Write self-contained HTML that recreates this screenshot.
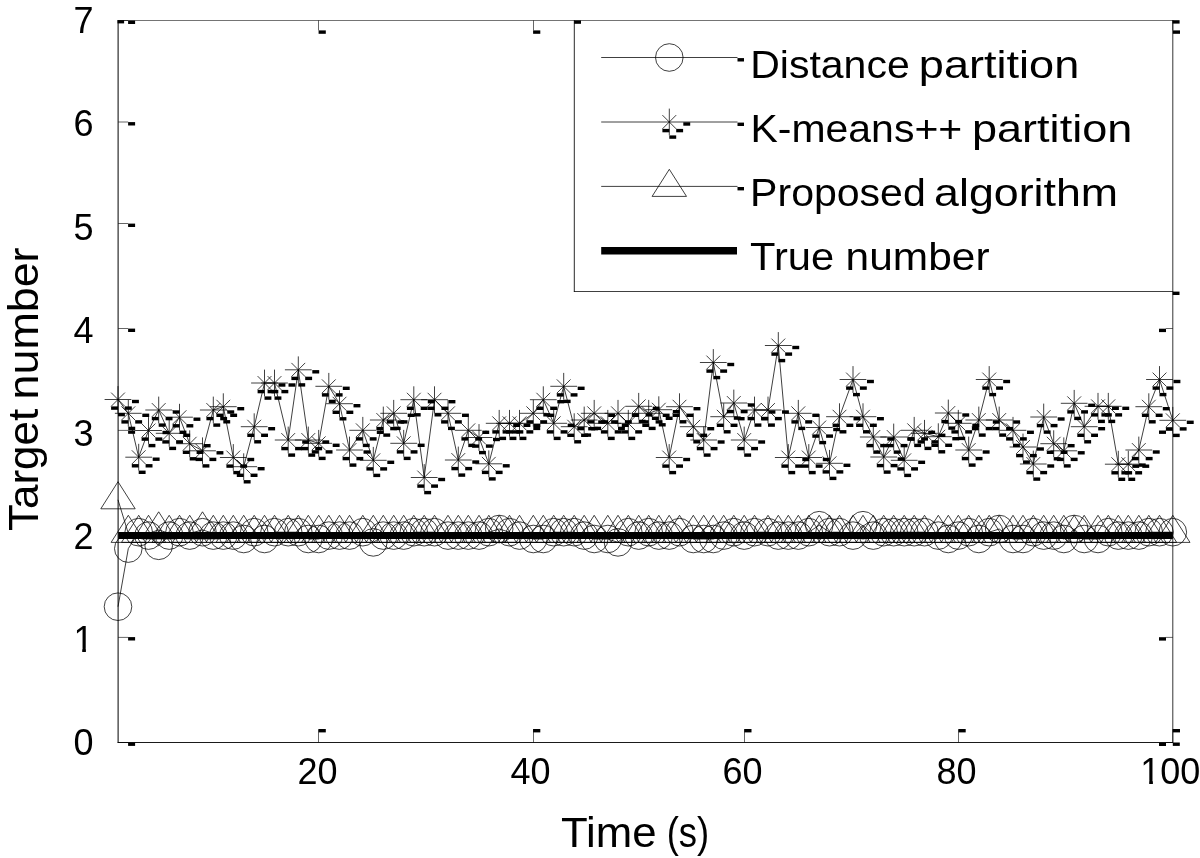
<!DOCTYPE html>
<html lang="en"><head><meta charset="utf-8"><title>Target number vs Time</title>
<style>
html,body{margin:0;padding:0;background:#fff;}
body{width:1200px;height:858px;overflow:hidden;font-family:"Liberation Sans",Arial,sans-serif;}
svg{display:block;}
</style></head><body>
<svg width="1200" height="858" viewBox="0 0 1200 858">
<rect width="1200" height="858" fill="#fff"/>
<g stroke="#000" fill="#000" stroke-linecap="butt">
<polyline points="118.0,606.7 128.3,548.6 138.7,532.2 148.5,535.6 158.7,545.8 169.2,535.6 179.5,532.2 189.7,535.6 202.5,532.2 213.3,535.6 223.3,535.6 233.3,535.6 243.7,539.0 254.2,532.2 264.5,539.0 274.5,532.2 288.2,532.2 298.3,532.2 308.3,539.0 318.7,539.0 328.8,535.6 339.5,535.6 349.5,535.6 362.8,532.2 373.3,542.4 383.3,535.6 393.7,535.6 403.7,535.6 413.8,532.2 424.2,532.2 434.5,532.2 448.0,535.6 458.3,535.6 468.3,535.6 479.0,535.6 488.8,532.2 499.2,529.0 509.5,532.2 519.5,535.6 533.3,539.0 543.3,539.0 553.7,532.2 563.7,532.2 574.2,532.2 584.2,535.6 594.2,539.0 607.8,539.0 618.0,542.4 628.3,532.2 638.7,535.6 648.7,532.2 658.8,535.6 669.2,535.6 679.5,532.2 693.3,539.0 703.7,539.0 713.3,539.0 723.7,535.6 733.8,532.2 744.2,535.6 754.5,532.2 768.0,532.2 778.3,535.6 788.3,535.6 798.3,535.6 808.8,532.2 819.2,525.2 829.5,532.2 839.5,532.2 853.0,535.6 863.0,525.2 873.3,535.6 883.7,532.2 893.7,532.2 904.2,532.2 914.2,532.2 924.5,532.2 938.3,535.6 948.3,539.0 958.3,535.6 968.7,532.2 978.8,539.0 989.2,532.2 999.2,529.0 1013.0,539.0 1023.0,539.0 1033.3,532.2 1043.7,535.6 1053.7,535.6 1063.8,539.0 1074.2,529.0 1084.2,539.0 1098.0,539.0 1108.3,532.2 1118.3,535.6 1128.3,535.6 1138.8,535.6 1148.8,532.2 1159.5,532.2 1172.8,532.2" fill="none" stroke-width="0.75"/>
<g fill="none" stroke-width="0.75">
<circle cx="118.0" cy="606.7" r="13.8"/>
<circle cx="128.3" cy="548.6" r="13.8"/>
<circle cx="138.7" cy="532.2" r="13.8"/>
<circle cx="148.5" cy="535.6" r="13.8"/>
<circle cx="158.7" cy="545.8" r="13.8"/>
<circle cx="169.2" cy="535.6" r="13.8"/>
<circle cx="179.5" cy="532.2" r="13.8"/>
<circle cx="189.7" cy="535.6" r="13.8"/>
<circle cx="202.5" cy="532.2" r="13.8"/>
<circle cx="213.3" cy="535.6" r="13.8"/>
<circle cx="223.3" cy="535.6" r="13.8"/>
<circle cx="233.3" cy="535.6" r="13.8"/>
<circle cx="243.7" cy="539.0" r="13.8"/>
<circle cx="254.2" cy="532.2" r="13.8"/>
<circle cx="264.5" cy="539.0" r="13.8"/>
<circle cx="274.5" cy="532.2" r="13.8"/>
<circle cx="288.2" cy="532.2" r="13.8"/>
<circle cx="298.3" cy="532.2" r="13.8"/>
<circle cx="308.3" cy="539.0" r="13.8"/>
<circle cx="318.7" cy="539.0" r="13.8"/>
<circle cx="328.8" cy="535.6" r="13.8"/>
<circle cx="339.5" cy="535.6" r="13.8"/>
<circle cx="349.5" cy="535.6" r="13.8"/>
<circle cx="362.8" cy="532.2" r="13.8"/>
<circle cx="373.3" cy="542.4" r="13.8"/>
<circle cx="383.3" cy="535.6" r="13.8"/>
<circle cx="393.7" cy="535.6" r="13.8"/>
<circle cx="403.7" cy="535.6" r="13.8"/>
<circle cx="413.8" cy="532.2" r="13.8"/>
<circle cx="424.2" cy="532.2" r="13.8"/>
<circle cx="434.5" cy="532.2" r="13.8"/>
<circle cx="448.0" cy="535.6" r="13.8"/>
<circle cx="458.3" cy="535.6" r="13.8"/>
<circle cx="468.3" cy="535.6" r="13.8"/>
<circle cx="479.0" cy="535.6" r="13.8"/>
<circle cx="488.8" cy="532.2" r="13.8"/>
<circle cx="499.2" cy="529.0" r="13.8"/>
<circle cx="509.5" cy="532.2" r="13.8"/>
<circle cx="519.5" cy="535.6" r="13.8"/>
<circle cx="533.3" cy="539.0" r="13.8"/>
<circle cx="543.3" cy="539.0" r="13.8"/>
<circle cx="553.7" cy="532.2" r="13.8"/>
<circle cx="563.7" cy="532.2" r="13.8"/>
<circle cx="574.2" cy="532.2" r="13.8"/>
<circle cx="584.2" cy="535.6" r="13.8"/>
<circle cx="594.2" cy="539.0" r="13.8"/>
<circle cx="607.8" cy="539.0" r="13.8"/>
<circle cx="618.0" cy="542.4" r="13.8"/>
<circle cx="628.3" cy="532.2" r="13.8"/>
<circle cx="638.7" cy="535.6" r="13.8"/>
<circle cx="648.7" cy="532.2" r="13.8"/>
<circle cx="658.8" cy="535.6" r="13.8"/>
<circle cx="669.2" cy="535.6" r="13.8"/>
<circle cx="679.5" cy="532.2" r="13.8"/>
<circle cx="693.3" cy="539.0" r="13.8"/>
<circle cx="703.7" cy="539.0" r="13.8"/>
<circle cx="713.3" cy="539.0" r="13.8"/>
<circle cx="723.7" cy="535.6" r="13.8"/>
<circle cx="733.8" cy="532.2" r="13.8"/>
<circle cx="744.2" cy="535.6" r="13.8"/>
<circle cx="754.5" cy="532.2" r="13.8"/>
<circle cx="768.0" cy="532.2" r="13.8"/>
<circle cx="778.3" cy="535.6" r="13.8"/>
<circle cx="788.3" cy="535.6" r="13.8"/>
<circle cx="798.3" cy="535.6" r="13.8"/>
<circle cx="808.8" cy="532.2" r="13.8"/>
<circle cx="819.2" cy="525.2" r="13.8"/>
<circle cx="829.5" cy="532.2" r="13.8"/>
<circle cx="839.5" cy="532.2" r="13.8"/>
<circle cx="853.0" cy="535.6" r="13.8"/>
<circle cx="863.0" cy="525.2" r="13.8"/>
<circle cx="873.3" cy="535.6" r="13.8"/>
<circle cx="883.7" cy="532.2" r="13.8"/>
<circle cx="893.7" cy="532.2" r="13.8"/>
<circle cx="904.2" cy="532.2" r="13.8"/>
<circle cx="914.2" cy="532.2" r="13.8"/>
<circle cx="924.5" cy="532.2" r="13.8"/>
<circle cx="938.3" cy="535.6" r="13.8"/>
<circle cx="948.3" cy="539.0" r="13.8"/>
<circle cx="958.3" cy="535.6" r="13.8"/>
<circle cx="968.7" cy="532.2" r="13.8"/>
<circle cx="978.8" cy="539.0" r="13.8"/>
<circle cx="989.2" cy="532.2" r="13.8"/>
<circle cx="999.2" cy="529.0" r="13.8"/>
<circle cx="1013.0" cy="539.0" r="13.8"/>
<circle cx="1023.0" cy="539.0" r="13.8"/>
<circle cx="1033.3" cy="532.2" r="13.8"/>
<circle cx="1043.7" cy="535.6" r="13.8"/>
<circle cx="1053.7" cy="535.6" r="13.8"/>
<circle cx="1063.8" cy="539.0" r="13.8"/>
<circle cx="1074.2" cy="529.0" r="13.8"/>
<circle cx="1084.2" cy="539.0" r="13.8"/>
<circle cx="1098.0" cy="539.0" r="13.8"/>
<circle cx="1108.3" cy="532.2" r="13.8"/>
<circle cx="1118.3" cy="535.6" r="13.8"/>
<circle cx="1128.3" cy="535.6" r="13.8"/>
<circle cx="1138.8" cy="535.6" r="13.8"/>
<circle cx="1148.8" cy="532.2" r="13.8"/>
<circle cx="1159.5" cy="532.2" r="13.8"/>
<circle cx="1172.8" cy="532.2" r="13.8"/>
</g>
<polyline points="118.0,399.5 128.3,413.3 138.7,457.2 148.5,430.5 158.7,410.0 169.2,433.3 179.5,417.2 189.7,443.7 202.5,450.8 213.3,410.0 223.3,406.7 233.3,457.5 243.7,466.7 254.2,426.7 264.5,383.0 274.5,383.0 288.2,440.0 298.3,369.8 308.3,440.0 318.7,443.3 328.8,386.3 339.5,403.7 349.5,450.0 362.8,430.3 373.3,460.3 383.3,420.0 393.7,413.3 403.7,443.3 413.8,399.7 424.2,477.5 434.5,399.7 448.0,413.3 458.3,460.0 468.3,430.3 479.0,437.5 488.8,463.8 499.2,423.3 509.5,423.3 519.5,423.3 533.3,413.3 543.3,399.7 553.7,423.3 563.7,386.3 574.2,426.7 584.2,420.0 594.2,413.3 607.8,423.3 618.0,413.3 628.3,423.3 638.7,406.3 648.7,413.3 658.8,409.7 669.2,457.5 679.5,406.7 693.3,426.7 703.7,440.0 713.3,362.5 723.7,416.7 733.8,403.0 744.2,440.0 754.5,410.0 768.0,410.0 778.3,345.5 788.3,457.5 798.3,413.3 808.8,457.5 819.2,427.5 829.5,463.3 839.5,416.7 853.0,379.5 863.0,416.7 873.3,437.0 883.7,457.0 893.7,437.0 904.2,460.3 914.2,430.3 924.5,433.3 938.3,436.7 948.3,413.0 958.3,423.3 968.7,450.0 978.8,420.0 989.2,379.5 999.2,420.0 1013.0,430.3 1023.0,447.0 1033.3,464.0 1043.7,417.0 1053.7,443.7 1063.8,450.8 1074.2,403.3 1084.2,426.7 1098.0,406.3 1108.3,406.3 1118.3,464.2 1128.3,464.2 1138.8,450.0 1148.8,406.7 1159.5,379.5 1172.8,420.3" fill="none" stroke-width="0.75"/>
<path d="M104.6 399.5H131.4M118.0 386.1V412.9M111.1 392.6L124.9 406.4M124.9 392.6L111.1 406.4M114.9 413.3H141.7M128.3 399.9V426.7M121.4 406.4L135.2 420.2M135.2 406.4L121.4 420.2M125.3 457.2H152.1M138.7 443.8V470.6M131.8 450.3L145.6 464.1M145.6 450.3L131.8 464.1M135.1 430.5H161.9M148.5 417.1V443.9M141.6 423.6L155.4 437.4M155.4 423.6L141.6 437.4M145.3 410.0H172.1M158.7 396.6V423.4M151.8 403.1L165.6 416.9M165.6 403.1L151.8 416.9M155.8 433.3H182.6M169.2 419.9V446.7M162.3 426.4L176.1 440.2M176.1 426.4L162.3 440.2M166.1 417.2H192.9M179.5 403.8V430.6M172.6 410.3L186.4 424.1M186.4 410.3L172.6 424.1M176.3 443.7H203.1M189.7 430.3V457.1M182.8 436.8L196.6 450.6M196.6 436.8L182.8 450.6M189.1 450.8H215.9M202.5 437.4V464.2M195.6 443.9L209.4 457.7M209.4 443.9L195.6 457.7M199.9 410.0H226.7M213.3 396.6V423.4M206.4 403.1L220.2 416.9M220.2 403.1L206.4 416.9M209.9 406.7H236.7M223.3 393.3V420.1M216.4 399.8L230.2 413.6M230.2 399.8L216.4 413.6M219.9 457.5H246.7M233.3 444.1V470.9M226.4 450.6L240.2 464.4M240.2 450.6L226.4 464.4M230.3 466.7H257.1M243.7 453.3V480.1M236.8 459.8L250.6 473.6M250.6 459.8L236.8 473.6M240.8 426.7H267.6M254.2 413.3V440.1M247.3 419.8L261.1 433.6M261.1 419.8L247.3 433.6M251.1 383.0H277.9M264.5 369.6V396.4M257.6 376.1L271.4 389.9M271.4 376.1L257.6 389.9M261.1 383.0H287.9M274.5 369.6V396.4M267.6 376.1L281.4 389.9M281.4 376.1L267.6 389.9M274.8 440.0H301.6M288.2 426.6V453.4M281.3 433.1L295.1 446.9M295.1 433.1L281.3 446.9M284.9 369.8H311.7M298.3 356.4V383.2M291.4 362.9L305.2 376.7M305.2 362.9L291.4 376.7M294.9 440.0H321.7M308.3 426.6V453.4M301.4 433.1L315.2 446.9M315.2 433.1L301.4 446.9M305.3 443.3H332.1M318.7 429.9V456.7M311.8 436.4L325.6 450.2M325.6 436.4L311.8 450.2M315.4 386.3H342.2M328.8 372.9V399.7M321.9 379.4L335.7 393.2M335.7 379.4L321.9 393.2M326.1 403.7H352.9M339.5 390.3V417.1M332.6 396.8L346.4 410.6M346.4 396.8L332.6 410.6M336.1 450.0H362.9M349.5 436.6V463.4M342.6 443.1L356.4 456.9M356.4 443.1L342.6 456.9M349.4 430.3H376.2M362.8 416.9V443.7M355.9 423.4L369.7 437.2M369.7 423.4L355.9 437.2M359.9 460.3H386.7M373.3 446.9V473.7M366.4 453.4L380.2 467.2M380.2 453.4L366.4 467.2M369.9 420.0H396.7M383.3 406.6V433.4M376.4 413.1L390.2 426.9M390.2 413.1L376.4 426.9M380.3 413.3H407.1M393.7 399.9V426.7M386.8 406.4L400.6 420.2M400.6 406.4L386.8 420.2M390.3 443.3H417.1M403.7 429.9V456.7M396.8 436.4L410.6 450.2M410.6 436.4L396.8 450.2M400.4 399.7H427.2M413.8 386.3V413.1M406.9 392.8L420.7 406.6M420.7 392.8L406.9 406.6M410.8 477.5H437.6M424.2 464.1V490.9M417.3 470.6L431.1 484.4M431.1 470.6L417.3 484.4M421.1 399.7H447.9M434.5 386.3V413.1M427.6 392.8L441.4 406.6M441.4 392.8L427.6 406.6M434.6 413.3H461.4M448.0 399.9V426.7M441.1 406.4L454.9 420.2M454.9 406.4L441.1 420.2M444.9 460.0H471.7M458.3 446.6V473.4M451.4 453.1L465.2 466.9M465.2 453.1L451.4 466.9M454.9 430.3H481.7M468.3 416.9V443.7M461.4 423.4L475.2 437.2M475.2 423.4L461.4 437.2M465.6 437.5H492.4M479.0 424.1V450.9M472.1 430.6L485.9 444.4M485.9 430.6L472.1 444.4M475.4 463.8H502.2M488.8 450.4V477.2M481.9 456.9L495.7 470.7M495.7 456.9L481.9 470.7M485.8 423.3H512.6M499.2 409.9V436.7M492.3 416.4L506.1 430.2M506.1 416.4L492.3 430.2M496.1 423.3H522.9M509.5 409.9V436.7M502.6 416.4L516.4 430.2M516.4 416.4L502.6 430.2M506.1 423.3H532.9M519.5 409.9V436.7M512.6 416.4L526.4 430.2M526.4 416.4L512.6 430.2M519.9 413.3H546.7M533.3 399.9V426.7M526.4 406.4L540.2 420.2M540.2 406.4L526.4 420.2M529.9 399.7H556.7M543.3 386.3V413.1M536.4 392.8L550.2 406.6M550.2 392.8L536.4 406.6M540.3 423.3H567.1M553.7 409.9V436.7M546.8 416.4L560.6 430.2M560.6 416.4L546.8 430.2M550.3 386.3H577.1M563.7 372.9V399.7M556.8 379.4L570.6 393.2M570.6 379.4L556.8 393.2M560.8 426.7H587.6M574.2 413.3V440.1M567.3 419.8L581.1 433.6M581.1 419.8L567.3 433.6M570.8 420.0H597.6M584.2 406.6V433.4M577.3 413.1L591.1 426.9M591.1 413.1L577.3 426.9M580.8 413.3H607.6M594.2 399.9V426.7M587.3 406.4L601.1 420.2M601.1 406.4L587.3 420.2M594.4 423.3H621.2M607.8 409.9V436.7M600.9 416.4L614.7 430.2M614.7 416.4L600.9 430.2M604.6 413.3H631.4M618.0 399.9V426.7M611.1 406.4L624.9 420.2M624.9 406.4L611.1 420.2M614.9 423.3H641.7M628.3 409.9V436.7M621.4 416.4L635.2 430.2M635.2 416.4L621.4 430.2M625.3 406.3H652.1M638.7 392.9V419.7M631.8 399.4L645.6 413.2M645.6 399.4L631.8 413.2M635.3 413.3H662.1M648.7 399.9V426.7M641.8 406.4L655.6 420.2M655.6 406.4L641.8 420.2M645.4 409.7H672.2M658.8 396.3V423.1M651.9 402.8L665.7 416.6M665.7 402.8L651.9 416.6M655.8 457.5H682.6M669.2 444.1V470.9M662.3 450.6L676.1 464.4M676.1 450.6L662.3 464.4M666.1 406.7H692.9M679.5 393.3V420.1M672.6 399.8L686.4 413.6M686.4 399.8L672.6 413.6M679.9 426.7H706.7M693.3 413.3V440.1M686.4 419.8L700.2 433.6M700.2 419.8L686.4 433.6M690.3 440.0H717.1M703.7 426.6V453.4M696.8 433.1L710.6 446.9M710.6 433.1L696.8 446.9M699.9 362.5H726.7M713.3 349.1V375.9M706.4 355.6L720.2 369.4M720.2 355.6L706.4 369.4M710.3 416.7H737.1M723.7 403.3V430.1M716.8 409.8L730.6 423.6M730.6 409.8L716.8 423.6M720.4 403.0H747.2M733.8 389.6V416.4M726.9 396.1L740.7 409.9M740.7 396.1L726.9 409.9M730.8 440.0H757.6M744.2 426.6V453.4M737.3 433.1L751.1 446.9M751.1 433.1L737.3 446.9M741.1 410.0H767.9M754.5 396.6V423.4M747.6 403.1L761.4 416.9M761.4 403.1L747.6 416.9M754.6 410.0H781.4M768.0 396.6V423.4M761.1 403.1L774.9 416.9M774.9 403.1L761.1 416.9M764.9 345.5H791.7M778.3 332.1V358.9M771.4 338.6L785.2 352.4M785.2 338.6L771.4 352.4M774.9 457.5H801.7M788.3 444.1V470.9M781.4 450.6L795.2 464.4M795.2 450.6L781.4 464.4M784.9 413.3H811.7M798.3 399.9V426.7M791.4 406.4L805.2 420.2M805.2 406.4L791.4 420.2M795.4 457.5H822.2M808.8 444.1V470.9M801.9 450.6L815.7 464.4M815.7 450.6L801.9 464.4M805.8 427.5H832.6M819.2 414.1V440.9M812.3 420.6L826.1 434.4M826.1 420.6L812.3 434.4M816.1 463.3H842.9M829.5 449.9V476.7M822.6 456.4L836.4 470.2M836.4 456.4L822.6 470.2M826.1 416.7H852.9M839.5 403.3V430.1M832.6 409.8L846.4 423.6M846.4 409.8L832.6 423.6M839.6 379.5H866.4M853.0 366.1V392.9M846.1 372.6L859.9 386.4M859.9 372.6L846.1 386.4M849.6 416.7H876.4M863.0 403.3V430.1M856.1 409.8L869.9 423.6M869.9 409.8L856.1 423.6M859.9 437.0H886.7M873.3 423.6V450.4M866.4 430.1L880.2 443.9M880.2 430.1L866.4 443.9M870.3 457.0H897.1M883.7 443.6V470.4M876.8 450.1L890.6 463.9M890.6 450.1L876.8 463.9M880.3 437.0H907.1M893.7 423.6V450.4M886.8 430.1L900.6 443.9M900.6 430.1L886.8 443.9M890.8 460.3H917.6M904.2 446.9V473.7M897.3 453.4L911.1 467.2M911.1 453.4L897.3 467.2M900.8 430.3H927.6M914.2 416.9V443.7M907.3 423.4L921.1 437.2M921.1 423.4L907.3 437.2M911.1 433.3H937.9M924.5 419.9V446.7M917.6 426.4L931.4 440.2M931.4 426.4L917.6 440.2M924.9 436.7H951.7M938.3 423.3V450.1M931.4 429.8L945.2 443.6M945.2 429.8L931.4 443.6M934.9 413.0H961.7M948.3 399.6V426.4M941.4 406.1L955.2 419.9M955.2 406.1L941.4 419.9M944.9 423.3H971.7M958.3 409.9V436.7M951.4 416.4L965.2 430.2M965.2 416.4L951.4 430.2M955.3 450.0H982.1M968.7 436.6V463.4M961.8 443.1L975.6 456.9M975.6 443.1L961.8 456.9M965.4 420.0H992.2M978.8 406.6V433.4M971.9 413.1L985.7 426.9M985.7 413.1L971.9 426.9M975.8 379.5H1002.6M989.2 366.1V392.9M982.3 372.6L996.1 386.4M996.1 372.6L982.3 386.4M985.8 420.0H1012.6M999.2 406.6V433.4M992.3 413.1L1006.1 426.9M1006.1 413.1L992.3 426.9M999.6 430.3H1026.4M1013.0 416.9V443.7M1006.1 423.4L1019.9 437.2M1019.9 423.4L1006.1 437.2M1009.6 447.0H1036.4M1023.0 433.6V460.4M1016.1 440.1L1029.9 453.9M1029.9 440.1L1016.1 453.9M1019.9 464.0H1046.7M1033.3 450.6V477.4M1026.4 457.1L1040.2 470.9M1040.2 457.1L1026.4 470.9M1030.3 417.0H1057.1M1043.7 403.6V430.4M1036.8 410.1L1050.6 423.9M1050.6 410.1L1036.8 423.9M1040.3 443.7H1067.1M1053.7 430.3V457.1M1046.8 436.8L1060.6 450.6M1060.6 436.8L1046.8 450.6M1050.4 450.8H1077.2M1063.8 437.4V464.2M1056.9 443.9L1070.7 457.7M1070.7 443.9L1056.9 457.7M1060.8 403.3H1087.6M1074.2 389.9V416.7M1067.3 396.4L1081.1 410.2M1081.1 396.4L1067.3 410.2M1070.8 426.7H1097.6M1084.2 413.3V440.1M1077.3 419.8L1091.1 433.6M1091.1 419.8L1077.3 433.6M1084.6 406.3H1111.4M1098.0 392.9V419.7M1091.1 399.4L1104.9 413.2M1104.9 399.4L1091.1 413.2M1094.9 406.3H1121.7M1108.3 392.9V419.7M1101.4 399.4L1115.2 413.2M1115.2 399.4L1101.4 413.2M1104.9 464.2H1131.7M1118.3 450.8V477.6M1111.4 457.3L1125.2 471.1M1125.2 457.3L1111.4 471.1M1114.9 464.2H1141.7M1128.3 450.8V477.6M1121.4 457.3L1135.2 471.1M1135.2 457.3L1121.4 471.1M1125.4 450.0H1152.2M1138.8 436.6V463.4M1131.9 443.1L1145.7 456.9M1145.7 443.1L1131.9 456.9M1135.4 406.7H1162.2M1148.8 393.3V420.1M1141.9 399.8L1155.7 413.6M1155.7 399.8L1141.9 413.6M1146.1 379.5H1172.9M1159.5 366.1V392.9M1152.6 372.6L1166.4 386.4M1166.4 372.6L1152.6 386.4M1159.4 420.3H1186.2M1172.8 406.9V433.7M1165.9 413.4L1179.7 427.2M1179.7 413.4L1165.9 427.2" fill="none" stroke-width="0.75"/>
<g stroke="none">
<rect x="132.0" y="399.8" width="6.9" height="3.4"/>
<rect x="118.0" y="412.9" width="6.9" height="3.4"/>
<rect x="111.1" y="406.4" width="6.9" height="3.4"/>
<rect x="124.9" y="406.4" width="6.9" height="3.4"/>
<rect x="142.3" y="413.6" width="6.9" height="3.4"/>
<rect x="128.3" y="426.7" width="6.9" height="3.4"/>
<rect x="121.4" y="420.2" width="6.9" height="3.4"/>
<rect x="135.2" y="420.2" width="6.9" height="3.4"/>
<rect x="152.7" y="457.5" width="6.9" height="3.4"/>
<rect x="138.7" y="470.6" width="6.9" height="3.4"/>
<rect x="131.8" y="464.1" width="6.9" height="3.4"/>
<rect x="145.6" y="464.1" width="6.9" height="3.4"/>
<rect x="162.5" y="430.8" width="6.9" height="3.4"/>
<rect x="148.5" y="443.9" width="6.9" height="3.4"/>
<rect x="141.6" y="437.4" width="6.9" height="3.4"/>
<rect x="155.4" y="437.4" width="6.9" height="3.4"/>
<rect x="172.7" y="410.3" width="6.9" height="3.4"/>
<rect x="158.7" y="423.4" width="6.9" height="3.4"/>
<rect x="151.8" y="416.9" width="6.9" height="3.4"/>
<rect x="165.6" y="416.9" width="6.9" height="3.4"/>
<rect x="183.2" y="433.6" width="6.9" height="3.4"/>
<rect x="169.2" y="446.7" width="6.9" height="3.4"/>
<rect x="162.3" y="440.2" width="6.9" height="3.4"/>
<rect x="176.1" y="440.2" width="6.9" height="3.4"/>
<rect x="193.5" y="417.5" width="6.9" height="3.4"/>
<rect x="179.5" y="430.6" width="6.9" height="3.4"/>
<rect x="172.6" y="424.1" width="6.9" height="3.4"/>
<rect x="186.4" y="424.1" width="6.9" height="3.4"/>
<rect x="203.7" y="444.0" width="6.9" height="3.4"/>
<rect x="189.7" y="457.1" width="6.9" height="3.4"/>
<rect x="182.8" y="450.6" width="6.9" height="3.4"/>
<rect x="196.6" y="450.6" width="6.9" height="3.4"/>
<rect x="216.5" y="451.1" width="6.9" height="3.4"/>
<rect x="202.5" y="464.2" width="6.9" height="3.4"/>
<rect x="195.6" y="457.7" width="6.9" height="3.4"/>
<rect x="209.4" y="457.7" width="6.9" height="3.4"/>
<rect x="227.3" y="410.3" width="6.9" height="3.4"/>
<rect x="213.3" y="423.4" width="6.9" height="3.4"/>
<rect x="206.4" y="416.9" width="6.9" height="3.4"/>
<rect x="220.2" y="416.9" width="6.9" height="3.4"/>
<rect x="237.3" y="407.0" width="6.9" height="3.4"/>
<rect x="223.3" y="420.1" width="6.9" height="3.4"/>
<rect x="216.4" y="413.6" width="6.9" height="3.4"/>
<rect x="230.2" y="413.6" width="6.9" height="3.4"/>
<rect x="247.3" y="457.8" width="6.9" height="3.4"/>
<rect x="233.3" y="470.9" width="6.9" height="3.4"/>
<rect x="226.4" y="464.4" width="6.9" height="3.4"/>
<rect x="240.2" y="464.4" width="6.9" height="3.4"/>
<rect x="257.7" y="467.0" width="6.9" height="3.4"/>
<rect x="243.7" y="480.1" width="6.9" height="3.4"/>
<rect x="236.8" y="473.6" width="6.9" height="3.4"/>
<rect x="250.6" y="473.6" width="6.9" height="3.4"/>
<rect x="268.2" y="427.0" width="6.9" height="3.4"/>
<rect x="254.2" y="440.1" width="6.9" height="3.4"/>
<rect x="247.3" y="433.6" width="6.9" height="3.4"/>
<rect x="261.1" y="433.6" width="6.9" height="3.4"/>
<rect x="278.5" y="383.3" width="6.9" height="3.4"/>
<rect x="264.5" y="396.4" width="6.9" height="3.4"/>
<rect x="257.6" y="389.9" width="6.9" height="3.4"/>
<rect x="271.4" y="389.9" width="6.9" height="3.4"/>
<rect x="288.5" y="383.3" width="6.9" height="3.4"/>
<rect x="274.5" y="396.4" width="6.9" height="3.4"/>
<rect x="267.6" y="389.9" width="6.9" height="3.4"/>
<rect x="281.4" y="389.9" width="6.9" height="3.4"/>
<rect x="302.2" y="440.3" width="6.9" height="3.4"/>
<rect x="288.2" y="453.4" width="6.9" height="3.4"/>
<rect x="281.3" y="446.9" width="6.9" height="3.4"/>
<rect x="295.1" y="446.9" width="6.9" height="3.4"/>
<rect x="312.3" y="370.1" width="6.9" height="3.4"/>
<rect x="298.3" y="383.2" width="6.9" height="3.4"/>
<rect x="291.4" y="376.7" width="6.9" height="3.4"/>
<rect x="305.2" y="376.7" width="6.9" height="3.4"/>
<rect x="322.3" y="440.3" width="6.9" height="3.4"/>
<rect x="308.3" y="453.4" width="6.9" height="3.4"/>
<rect x="301.4" y="446.9" width="6.9" height="3.4"/>
<rect x="315.2" y="446.9" width="6.9" height="3.4"/>
<rect x="332.7" y="443.6" width="6.9" height="3.4"/>
<rect x="318.7" y="456.7" width="6.9" height="3.4"/>
<rect x="311.8" y="450.2" width="6.9" height="3.4"/>
<rect x="325.6" y="450.2" width="6.9" height="3.4"/>
<rect x="342.8" y="386.6" width="6.9" height="3.4"/>
<rect x="328.8" y="399.7" width="6.9" height="3.4"/>
<rect x="321.9" y="393.2" width="6.9" height="3.4"/>
<rect x="335.7" y="393.2" width="6.9" height="3.4"/>
<rect x="353.5" y="404.0" width="6.9" height="3.4"/>
<rect x="339.5" y="417.1" width="6.9" height="3.4"/>
<rect x="332.6" y="410.6" width="6.9" height="3.4"/>
<rect x="346.4" y="410.6" width="6.9" height="3.4"/>
<rect x="363.5" y="450.3" width="6.9" height="3.4"/>
<rect x="349.5" y="463.4" width="6.9" height="3.4"/>
<rect x="342.6" y="456.9" width="6.9" height="3.4"/>
<rect x="356.4" y="456.9" width="6.9" height="3.4"/>
<rect x="376.8" y="430.6" width="6.9" height="3.4"/>
<rect x="362.8" y="443.7" width="6.9" height="3.4"/>
<rect x="355.9" y="437.2" width="6.9" height="3.4"/>
<rect x="369.7" y="437.2" width="6.9" height="3.4"/>
<rect x="387.3" y="460.6" width="6.9" height="3.4"/>
<rect x="373.3" y="473.7" width="6.9" height="3.4"/>
<rect x="366.4" y="467.2" width="6.9" height="3.4"/>
<rect x="380.2" y="467.2" width="6.9" height="3.4"/>
<rect x="397.3" y="420.3" width="6.9" height="3.4"/>
<rect x="383.3" y="433.4" width="6.9" height="3.4"/>
<rect x="376.4" y="426.9" width="6.9" height="3.4"/>
<rect x="390.2" y="426.9" width="6.9" height="3.4"/>
<rect x="407.7" y="413.6" width="6.9" height="3.4"/>
<rect x="393.7" y="426.7" width="6.9" height="3.4"/>
<rect x="386.8" y="420.2" width="6.9" height="3.4"/>
<rect x="400.6" y="420.2" width="6.9" height="3.4"/>
<rect x="417.7" y="443.6" width="6.9" height="3.4"/>
<rect x="403.7" y="456.7" width="6.9" height="3.4"/>
<rect x="396.8" y="450.2" width="6.9" height="3.4"/>
<rect x="410.6" y="450.2" width="6.9" height="3.4"/>
<rect x="427.8" y="400.0" width="6.9" height="3.4"/>
<rect x="413.8" y="413.1" width="6.9" height="3.4"/>
<rect x="406.9" y="406.6" width="6.9" height="3.4"/>
<rect x="420.7" y="406.6" width="6.9" height="3.4"/>
<rect x="438.2" y="477.8" width="6.9" height="3.4"/>
<rect x="424.2" y="490.9" width="6.9" height="3.4"/>
<rect x="417.3" y="484.4" width="6.9" height="3.4"/>
<rect x="431.1" y="484.4" width="6.9" height="3.4"/>
<rect x="448.5" y="400.0" width="6.9" height="3.4"/>
<rect x="434.5" y="413.1" width="6.9" height="3.4"/>
<rect x="427.6" y="406.6" width="6.9" height="3.4"/>
<rect x="441.4" y="406.6" width="6.9" height="3.4"/>
<rect x="462.0" y="413.6" width="6.9" height="3.4"/>
<rect x="448.0" y="426.7" width="6.9" height="3.4"/>
<rect x="441.1" y="420.2" width="6.9" height="3.4"/>
<rect x="454.9" y="420.2" width="6.9" height="3.4"/>
<rect x="472.3" y="460.3" width="6.9" height="3.4"/>
<rect x="458.3" y="473.4" width="6.9" height="3.4"/>
<rect x="451.4" y="466.9" width="6.9" height="3.4"/>
<rect x="465.2" y="466.9" width="6.9" height="3.4"/>
<rect x="482.3" y="430.6" width="6.9" height="3.4"/>
<rect x="468.3" y="443.7" width="6.9" height="3.4"/>
<rect x="461.4" y="437.2" width="6.9" height="3.4"/>
<rect x="475.2" y="437.2" width="6.9" height="3.4"/>
<rect x="493.0" y="437.8" width="6.9" height="3.4"/>
<rect x="479.0" y="450.9" width="6.9" height="3.4"/>
<rect x="472.1" y="444.4" width="6.9" height="3.4"/>
<rect x="485.9" y="444.4" width="6.9" height="3.4"/>
<rect x="502.8" y="464.1" width="6.9" height="3.4"/>
<rect x="488.8" y="477.2" width="6.9" height="3.4"/>
<rect x="481.9" y="470.7" width="6.9" height="3.4"/>
<rect x="495.7" y="470.7" width="6.9" height="3.4"/>
<rect x="513.2" y="423.6" width="6.9" height="3.4"/>
<rect x="499.2" y="436.7" width="6.9" height="3.4"/>
<rect x="492.3" y="430.2" width="6.9" height="3.4"/>
<rect x="506.1" y="430.2" width="6.9" height="3.4"/>
<rect x="523.5" y="423.6" width="6.9" height="3.4"/>
<rect x="509.5" y="436.7" width="6.9" height="3.4"/>
<rect x="502.6" y="430.2" width="6.9" height="3.4"/>
<rect x="516.4" y="430.2" width="6.9" height="3.4"/>
<rect x="533.5" y="423.6" width="6.9" height="3.4"/>
<rect x="519.5" y="436.7" width="6.9" height="3.4"/>
<rect x="512.6" y="430.2" width="6.9" height="3.4"/>
<rect x="526.4" y="430.2" width="6.9" height="3.4"/>
<rect x="547.3" y="413.6" width="6.9" height="3.4"/>
<rect x="533.3" y="426.7" width="6.9" height="3.4"/>
<rect x="526.4" y="420.2" width="6.9" height="3.4"/>
<rect x="540.2" y="420.2" width="6.9" height="3.4"/>
<rect x="557.3" y="400.0" width="6.9" height="3.4"/>
<rect x="543.3" y="413.1" width="6.9" height="3.4"/>
<rect x="536.4" y="406.6" width="6.9" height="3.4"/>
<rect x="550.2" y="406.6" width="6.9" height="3.4"/>
<rect x="567.7" y="423.6" width="6.9" height="3.4"/>
<rect x="553.7" y="436.7" width="6.9" height="3.4"/>
<rect x="546.8" y="430.2" width="6.9" height="3.4"/>
<rect x="560.6" y="430.2" width="6.9" height="3.4"/>
<rect x="577.7" y="386.6" width="6.9" height="3.4"/>
<rect x="563.7" y="399.7" width="6.9" height="3.4"/>
<rect x="556.8" y="393.2" width="6.9" height="3.4"/>
<rect x="570.6" y="393.2" width="6.9" height="3.4"/>
<rect x="588.2" y="427.0" width="6.9" height="3.4"/>
<rect x="574.2" y="440.1" width="6.9" height="3.4"/>
<rect x="567.3" y="433.6" width="6.9" height="3.4"/>
<rect x="581.1" y="433.6" width="6.9" height="3.4"/>
<rect x="598.2" y="420.3" width="6.9" height="3.4"/>
<rect x="584.2" y="433.4" width="6.9" height="3.4"/>
<rect x="577.3" y="426.9" width="6.9" height="3.4"/>
<rect x="591.1" y="426.9" width="6.9" height="3.4"/>
<rect x="608.2" y="413.6" width="6.9" height="3.4"/>
<rect x="594.2" y="426.7" width="6.9" height="3.4"/>
<rect x="587.3" y="420.2" width="6.9" height="3.4"/>
<rect x="601.1" y="420.2" width="6.9" height="3.4"/>
<rect x="621.8" y="423.6" width="6.9" height="3.4"/>
<rect x="607.8" y="436.7" width="6.9" height="3.4"/>
<rect x="600.9" y="430.2" width="6.9" height="3.4"/>
<rect x="614.7" y="430.2" width="6.9" height="3.4"/>
<rect x="632.0" y="413.6" width="6.9" height="3.4"/>
<rect x="618.0" y="426.7" width="6.9" height="3.4"/>
<rect x="611.1" y="420.2" width="6.9" height="3.4"/>
<rect x="624.9" y="420.2" width="6.9" height="3.4"/>
<rect x="642.3" y="423.6" width="6.9" height="3.4"/>
<rect x="628.3" y="436.7" width="6.9" height="3.4"/>
<rect x="621.4" y="430.2" width="6.9" height="3.4"/>
<rect x="635.2" y="430.2" width="6.9" height="3.4"/>
<rect x="652.7" y="406.6" width="6.9" height="3.4"/>
<rect x="638.7" y="419.7" width="6.9" height="3.4"/>
<rect x="631.8" y="413.2" width="6.9" height="3.4"/>
<rect x="645.6" y="413.2" width="6.9" height="3.4"/>
<rect x="662.7" y="413.6" width="6.9" height="3.4"/>
<rect x="648.7" y="426.7" width="6.9" height="3.4"/>
<rect x="641.8" y="420.2" width="6.9" height="3.4"/>
<rect x="655.6" y="420.2" width="6.9" height="3.4"/>
<rect x="672.8" y="410.0" width="6.9" height="3.4"/>
<rect x="658.8" y="423.1" width="6.9" height="3.4"/>
<rect x="651.9" y="416.6" width="6.9" height="3.4"/>
<rect x="665.7" y="416.6" width="6.9" height="3.4"/>
<rect x="683.2" y="457.8" width="6.9" height="3.4"/>
<rect x="669.2" y="470.9" width="6.9" height="3.4"/>
<rect x="662.3" y="464.4" width="6.9" height="3.4"/>
<rect x="676.1" y="464.4" width="6.9" height="3.4"/>
<rect x="693.5" y="407.0" width="6.9" height="3.4"/>
<rect x="679.5" y="420.1" width="6.9" height="3.4"/>
<rect x="672.6" y="413.6" width="6.9" height="3.4"/>
<rect x="686.4" y="413.6" width="6.9" height="3.4"/>
<rect x="707.3" y="427.0" width="6.9" height="3.4"/>
<rect x="693.3" y="440.1" width="6.9" height="3.4"/>
<rect x="686.4" y="433.6" width="6.9" height="3.4"/>
<rect x="700.2" y="433.6" width="6.9" height="3.4"/>
<rect x="717.7" y="440.3" width="6.9" height="3.4"/>
<rect x="703.7" y="453.4" width="6.9" height="3.4"/>
<rect x="696.8" y="446.9" width="6.9" height="3.4"/>
<rect x="710.6" y="446.9" width="6.9" height="3.4"/>
<rect x="727.3" y="362.8" width="6.9" height="3.4"/>
<rect x="713.3" y="375.9" width="6.9" height="3.4"/>
<rect x="706.4" y="369.4" width="6.9" height="3.4"/>
<rect x="720.2" y="369.4" width="6.9" height="3.4"/>
<rect x="737.7" y="417.0" width="6.9" height="3.4"/>
<rect x="723.7" y="430.1" width="6.9" height="3.4"/>
<rect x="716.8" y="423.6" width="6.9" height="3.4"/>
<rect x="730.6" y="423.6" width="6.9" height="3.4"/>
<rect x="747.8" y="403.3" width="6.9" height="3.4"/>
<rect x="733.8" y="416.4" width="6.9" height="3.4"/>
<rect x="726.9" y="409.9" width="6.9" height="3.4"/>
<rect x="740.7" y="409.9" width="6.9" height="3.4"/>
<rect x="758.2" y="440.3" width="6.9" height="3.4"/>
<rect x="744.2" y="453.4" width="6.9" height="3.4"/>
<rect x="737.3" y="446.9" width="6.9" height="3.4"/>
<rect x="751.1" y="446.9" width="6.9" height="3.4"/>
<rect x="768.5" y="410.3" width="6.9" height="3.4"/>
<rect x="754.5" y="423.4" width="6.9" height="3.4"/>
<rect x="747.6" y="416.9" width="6.9" height="3.4"/>
<rect x="761.4" y="416.9" width="6.9" height="3.4"/>
<rect x="782.0" y="410.3" width="6.9" height="3.4"/>
<rect x="768.0" y="423.4" width="6.9" height="3.4"/>
<rect x="761.1" y="416.9" width="6.9" height="3.4"/>
<rect x="774.9" y="416.9" width="6.9" height="3.4"/>
<rect x="792.3" y="345.8" width="6.9" height="3.4"/>
<rect x="778.3" y="358.9" width="6.9" height="3.4"/>
<rect x="771.4" y="352.4" width="6.9" height="3.4"/>
<rect x="785.2" y="352.4" width="6.9" height="3.4"/>
<rect x="802.3" y="457.8" width="6.9" height="3.4"/>
<rect x="788.3" y="470.9" width="6.9" height="3.4"/>
<rect x="781.4" y="464.4" width="6.9" height="3.4"/>
<rect x="795.2" y="464.4" width="6.9" height="3.4"/>
<rect x="812.3" y="413.6" width="6.9" height="3.4"/>
<rect x="798.3" y="426.7" width="6.9" height="3.4"/>
<rect x="791.4" y="420.2" width="6.9" height="3.4"/>
<rect x="805.2" y="420.2" width="6.9" height="3.4"/>
<rect x="822.8" y="457.8" width="6.9" height="3.4"/>
<rect x="808.8" y="470.9" width="6.9" height="3.4"/>
<rect x="801.9" y="464.4" width="6.9" height="3.4"/>
<rect x="815.7" y="464.4" width="6.9" height="3.4"/>
<rect x="833.2" y="427.8" width="6.9" height="3.4"/>
<rect x="819.2" y="440.9" width="6.9" height="3.4"/>
<rect x="812.3" y="434.4" width="6.9" height="3.4"/>
<rect x="826.1" y="434.4" width="6.9" height="3.4"/>
<rect x="843.5" y="463.6" width="6.9" height="3.4"/>
<rect x="829.5" y="476.7" width="6.9" height="3.4"/>
<rect x="822.6" y="470.2" width="6.9" height="3.4"/>
<rect x="836.4" y="470.2" width="6.9" height="3.4"/>
<rect x="853.5" y="417.0" width="6.9" height="3.4"/>
<rect x="839.5" y="430.1" width="6.9" height="3.4"/>
<rect x="832.6" y="423.6" width="6.9" height="3.4"/>
<rect x="846.4" y="423.6" width="6.9" height="3.4"/>
<rect x="867.0" y="379.8" width="6.9" height="3.4"/>
<rect x="853.0" y="392.9" width="6.9" height="3.4"/>
<rect x="846.1" y="386.4" width="6.9" height="3.4"/>
<rect x="859.9" y="386.4" width="6.9" height="3.4"/>
<rect x="877.0" y="417.0" width="6.9" height="3.4"/>
<rect x="863.0" y="430.1" width="6.9" height="3.4"/>
<rect x="856.1" y="423.6" width="6.9" height="3.4"/>
<rect x="869.9" y="423.6" width="6.9" height="3.4"/>
<rect x="887.3" y="437.3" width="6.9" height="3.4"/>
<rect x="873.3" y="450.4" width="6.9" height="3.4"/>
<rect x="866.4" y="443.9" width="6.9" height="3.4"/>
<rect x="880.2" y="443.9" width="6.9" height="3.4"/>
<rect x="897.7" y="457.3" width="6.9" height="3.4"/>
<rect x="883.7" y="470.4" width="6.9" height="3.4"/>
<rect x="876.8" y="463.9" width="6.9" height="3.4"/>
<rect x="890.6" y="463.9" width="6.9" height="3.4"/>
<rect x="907.7" y="437.3" width="6.9" height="3.4"/>
<rect x="893.7" y="450.4" width="6.9" height="3.4"/>
<rect x="886.8" y="443.9" width="6.9" height="3.4"/>
<rect x="900.6" y="443.9" width="6.9" height="3.4"/>
<rect x="918.2" y="460.6" width="6.9" height="3.4"/>
<rect x="904.2" y="473.7" width="6.9" height="3.4"/>
<rect x="897.3" y="467.2" width="6.9" height="3.4"/>
<rect x="911.1" y="467.2" width="6.9" height="3.4"/>
<rect x="928.2" y="430.6" width="6.9" height="3.4"/>
<rect x="914.2" y="443.7" width="6.9" height="3.4"/>
<rect x="907.3" y="437.2" width="6.9" height="3.4"/>
<rect x="921.1" y="437.2" width="6.9" height="3.4"/>
<rect x="938.5" y="433.6" width="6.9" height="3.4"/>
<rect x="924.5" y="446.7" width="6.9" height="3.4"/>
<rect x="917.6" y="440.2" width="6.9" height="3.4"/>
<rect x="931.4" y="440.2" width="6.9" height="3.4"/>
<rect x="952.3" y="437.0" width="6.9" height="3.4"/>
<rect x="938.3" y="450.1" width="6.9" height="3.4"/>
<rect x="931.4" y="443.6" width="6.9" height="3.4"/>
<rect x="945.2" y="443.6" width="6.9" height="3.4"/>
<rect x="962.3" y="413.3" width="6.9" height="3.4"/>
<rect x="948.3" y="426.4" width="6.9" height="3.4"/>
<rect x="941.4" y="419.9" width="6.9" height="3.4"/>
<rect x="955.2" y="419.9" width="6.9" height="3.4"/>
<rect x="972.3" y="423.6" width="6.9" height="3.4"/>
<rect x="958.3" y="436.7" width="6.9" height="3.4"/>
<rect x="951.4" y="430.2" width="6.9" height="3.4"/>
<rect x="965.2" y="430.2" width="6.9" height="3.4"/>
<rect x="982.7" y="450.3" width="6.9" height="3.4"/>
<rect x="968.7" y="463.4" width="6.9" height="3.4"/>
<rect x="961.8" y="456.9" width="6.9" height="3.4"/>
<rect x="975.6" y="456.9" width="6.9" height="3.4"/>
<rect x="992.8" y="420.3" width="6.9" height="3.4"/>
<rect x="978.8" y="433.4" width="6.9" height="3.4"/>
<rect x="971.9" y="426.9" width="6.9" height="3.4"/>
<rect x="985.7" y="426.9" width="6.9" height="3.4"/>
<rect x="1003.2" y="379.8" width="6.9" height="3.4"/>
<rect x="989.2" y="392.9" width="6.9" height="3.4"/>
<rect x="982.3" y="386.4" width="6.9" height="3.4"/>
<rect x="996.1" y="386.4" width="6.9" height="3.4"/>
<rect x="1013.2" y="420.3" width="6.9" height="3.4"/>
<rect x="999.2" y="433.4" width="6.9" height="3.4"/>
<rect x="992.3" y="426.9" width="6.9" height="3.4"/>
<rect x="1006.1" y="426.9" width="6.9" height="3.4"/>
<rect x="1027.0" y="430.6" width="6.9" height="3.4"/>
<rect x="1013.0" y="443.7" width="6.9" height="3.4"/>
<rect x="1006.1" y="437.2" width="6.9" height="3.4"/>
<rect x="1019.9" y="437.2" width="6.9" height="3.4"/>
<rect x="1037.0" y="447.3" width="6.9" height="3.4"/>
<rect x="1023.0" y="460.4" width="6.9" height="3.4"/>
<rect x="1016.1" y="453.9" width="6.9" height="3.4"/>
<rect x="1029.9" y="453.9" width="6.9" height="3.4"/>
<rect x="1047.3" y="464.3" width="6.9" height="3.4"/>
<rect x="1033.3" y="477.4" width="6.9" height="3.4"/>
<rect x="1026.4" y="470.9" width="6.9" height="3.4"/>
<rect x="1040.2" y="470.9" width="6.9" height="3.4"/>
<rect x="1057.7" y="417.3" width="6.9" height="3.4"/>
<rect x="1043.7" y="430.4" width="6.9" height="3.4"/>
<rect x="1036.8" y="423.9" width="6.9" height="3.4"/>
<rect x="1050.6" y="423.9" width="6.9" height="3.4"/>
<rect x="1067.7" y="444.0" width="6.9" height="3.4"/>
<rect x="1053.7" y="457.1" width="6.9" height="3.4"/>
<rect x="1046.8" y="450.6" width="6.9" height="3.4"/>
<rect x="1060.6" y="450.6" width="6.9" height="3.4"/>
<rect x="1077.8" y="451.1" width="6.9" height="3.4"/>
<rect x="1063.8" y="464.2" width="6.9" height="3.4"/>
<rect x="1056.9" y="457.7" width="6.9" height="3.4"/>
<rect x="1070.7" y="457.7" width="6.9" height="3.4"/>
<rect x="1088.2" y="403.6" width="6.9" height="3.4"/>
<rect x="1074.2" y="416.7" width="6.9" height="3.4"/>
<rect x="1067.3" y="410.2" width="6.9" height="3.4"/>
<rect x="1081.1" y="410.2" width="6.9" height="3.4"/>
<rect x="1098.2" y="427.0" width="6.9" height="3.4"/>
<rect x="1084.2" y="440.1" width="6.9" height="3.4"/>
<rect x="1077.3" y="433.6" width="6.9" height="3.4"/>
<rect x="1091.1" y="433.6" width="6.9" height="3.4"/>
<rect x="1112.0" y="406.6" width="6.9" height="3.4"/>
<rect x="1098.0" y="419.7" width="6.9" height="3.4"/>
<rect x="1091.1" y="413.2" width="6.9" height="3.4"/>
<rect x="1104.9" y="413.2" width="6.9" height="3.4"/>
<rect x="1122.3" y="406.6" width="6.9" height="3.4"/>
<rect x="1108.3" y="419.7" width="6.9" height="3.4"/>
<rect x="1101.4" y="413.2" width="6.9" height="3.4"/>
<rect x="1115.2" y="413.2" width="6.9" height="3.4"/>
<rect x="1132.3" y="464.5" width="6.9" height="3.4"/>
<rect x="1118.3" y="477.6" width="6.9" height="3.4"/>
<rect x="1111.4" y="471.1" width="6.9" height="3.4"/>
<rect x="1125.2" y="471.1" width="6.9" height="3.4"/>
<rect x="1142.3" y="464.5" width="6.9" height="3.4"/>
<rect x="1128.3" y="477.6" width="6.9" height="3.4"/>
<rect x="1121.4" y="471.1" width="6.9" height="3.4"/>
<rect x="1135.2" y="471.1" width="6.9" height="3.4"/>
<rect x="1152.8" y="450.3" width="6.9" height="3.4"/>
<rect x="1138.8" y="463.4" width="6.9" height="3.4"/>
<rect x="1131.9" y="456.9" width="6.9" height="3.4"/>
<rect x="1145.7" y="456.9" width="6.9" height="3.4"/>
<rect x="1162.8" y="407.0" width="6.9" height="3.4"/>
<rect x="1148.8" y="420.1" width="6.9" height="3.4"/>
<rect x="1141.9" y="413.6" width="6.9" height="3.4"/>
<rect x="1155.7" y="413.6" width="6.9" height="3.4"/>
<rect x="1173.5" y="379.8" width="6.9" height="3.4"/>
<rect x="1159.5" y="392.9" width="6.9" height="3.4"/>
<rect x="1152.6" y="386.4" width="6.9" height="3.4"/>
<rect x="1166.4" y="386.4" width="6.9" height="3.4"/>
<rect x="1186.8" y="420.6" width="6.9" height="3.4"/>
<rect x="1172.8" y="433.7" width="6.9" height="3.4"/>
<rect x="1165.9" y="427.2" width="6.9" height="3.4"/>
<rect x="1179.7" y="427.2" width="6.9" height="3.4"/>
</g>
<polyline points="118.0,499.8 128.3,533.4 138.7,533.4 148.5,533.4 158.7,529.9 169.2,533.4 179.5,533.4 189.7,533.4 202.5,529.9 213.3,533.4 223.3,533.4 233.3,533.4 243.7,533.4 254.2,533.4 264.5,533.4 274.5,533.4 288.2,533.4 298.3,533.4 308.3,533.4 318.7,533.4 328.8,533.4 339.5,533.4 349.5,533.4 362.8,533.4 373.3,533.4 383.3,533.4 393.7,533.4 403.7,533.4 413.8,533.4 424.2,533.4 434.5,533.4 448.0,533.4 458.3,533.4 468.3,533.4 479.0,533.4 488.8,533.4 499.2,533.4 509.5,533.4 519.5,533.4 533.3,533.4 543.3,533.4 553.7,533.4 563.7,533.4 574.2,533.4 584.2,533.4 594.2,533.4 607.8,533.4 618.0,533.4 628.3,533.4 638.7,533.4 648.7,533.4 658.8,533.4 669.2,533.4 679.5,533.4 693.3,533.4 703.7,533.4 713.3,533.4 723.7,533.4 733.8,533.4 744.2,533.4 754.5,533.4 768.0,533.4 778.3,533.4 788.3,533.4 798.3,533.4 808.8,533.4 819.2,533.4 829.5,533.4 839.5,533.4 853.0,533.4 863.0,533.4 873.3,533.4 883.7,533.4 893.7,533.4 904.2,533.4 914.2,533.4 924.5,533.4 938.3,533.4 948.3,533.4 958.3,533.4 968.7,533.4 978.8,533.4 989.2,533.4 999.2,533.4 1013.0,533.4 1023.0,533.4 1033.3,533.4 1043.7,533.4 1053.7,533.4 1063.8,533.4 1074.2,533.4 1084.2,533.4 1098.0,533.4 1108.3,533.4 1118.3,533.4 1128.3,533.4 1138.8,533.4 1148.8,533.4 1159.5,533.4 1172.8,533.4" fill="none" stroke-width="0.75"/>
<path d="M118.0 481.7L135.2 508.8H100.8ZM128.3 515.3L145.5 542.4H111.1ZM138.7 515.3L155.9 542.4H121.5ZM148.5 515.3L165.7 542.4H131.3ZM158.7 511.8L175.9 538.9H141.5ZM169.2 515.3L186.4 542.4H152.0ZM179.5 515.3L196.7 542.4H162.3ZM189.7 515.3L206.9 542.4H172.5ZM202.5 511.8L219.7 538.9H185.3ZM213.3 515.3L230.5 542.4H196.1ZM223.3 515.3L240.5 542.4H206.1ZM233.3 515.3L250.5 542.4H216.1ZM243.7 515.3L260.9 542.4H226.5ZM254.2 515.3L271.4 542.4H237.0ZM264.5 515.3L281.7 542.4H247.3ZM274.5 515.3L291.7 542.4H257.3ZM288.2 515.3L305.4 542.4H271.0ZM298.3 515.3L315.5 542.4H281.1ZM308.3 515.3L325.5 542.4H291.1ZM318.7 515.3L335.9 542.4H301.5ZM328.8 515.3L346.0 542.4H311.6ZM339.5 515.3L356.7 542.4H322.3ZM349.5 515.3L366.7 542.4H332.3ZM362.8 515.3L380.0 542.4H345.6ZM373.3 515.3L390.5 542.4H356.1ZM383.3 515.3L400.5 542.4H366.1ZM393.7 515.3L410.9 542.4H376.5ZM403.7 515.3L420.9 542.4H386.5ZM413.8 515.3L431.0 542.4H396.6ZM424.2 515.3L441.4 542.4H407.0ZM434.5 515.3L451.7 542.4H417.3ZM448.0 515.3L465.2 542.4H430.8ZM458.3 515.3L475.5 542.4H441.1ZM468.3 515.3L485.5 542.4H451.1ZM479.0 515.3L496.2 542.4H461.8ZM488.8 515.3L506.0 542.4H471.6ZM499.2 515.3L516.4 542.4H482.0ZM509.5 515.3L526.7 542.4H492.3ZM519.5 515.3L536.7 542.4H502.3ZM533.3 515.3L550.5 542.4H516.1ZM543.3 515.3L560.5 542.4H526.1ZM553.7 515.3L570.9 542.4H536.5ZM563.7 515.3L580.9 542.4H546.5ZM574.2 515.3L591.4 542.4H557.0ZM584.2 515.3L601.4 542.4H567.0ZM594.2 515.3L611.4 542.4H577.0ZM607.8 515.3L625.0 542.4H590.6ZM618.0 515.3L635.2 542.4H600.8ZM628.3 515.3L645.5 542.4H611.1ZM638.7 515.3L655.9 542.4H621.5ZM648.7 515.3L665.9 542.4H631.5ZM658.8 515.3L676.0 542.4H641.6ZM669.2 515.3L686.4 542.4H652.0ZM679.5 515.3L696.7 542.4H662.3ZM693.3 515.3L710.5 542.4H676.1ZM703.7 515.3L720.9 542.4H686.5ZM713.3 515.3L730.5 542.4H696.1ZM723.7 515.3L740.9 542.4H706.5ZM733.8 515.3L751.0 542.4H716.6ZM744.2 515.3L761.4 542.4H727.0ZM754.5 515.3L771.7 542.4H737.3ZM768.0 515.3L785.2 542.4H750.8ZM778.3 515.3L795.5 542.4H761.1ZM788.3 515.3L805.5 542.4H771.1ZM798.3 515.3L815.5 542.4H781.1ZM808.8 515.3L826.0 542.4H791.6ZM819.2 515.3L836.4 542.4H802.0ZM829.5 515.3L846.7 542.4H812.3ZM839.5 515.3L856.7 542.4H822.3ZM853.0 515.3L870.2 542.4H835.8ZM863.0 515.3L880.2 542.4H845.8ZM873.3 515.3L890.5 542.4H856.1ZM883.7 515.3L900.9 542.4H866.5ZM893.7 515.3L910.9 542.4H876.5ZM904.2 515.3L921.4 542.4H887.0ZM914.2 515.3L931.4 542.4H897.0ZM924.5 515.3L941.7 542.4H907.3ZM938.3 515.3L955.5 542.4H921.1ZM948.3 515.3L965.5 542.4H931.1ZM958.3 515.3L975.5 542.4H941.1ZM968.7 515.3L985.9 542.4H951.5ZM978.8 515.3L996.0 542.4H961.6ZM989.2 515.3L1006.4 542.4H972.0ZM999.2 515.3L1016.4 542.4H982.0ZM1013.0 515.3L1030.2 542.4H995.8ZM1023.0 515.3L1040.2 542.4H1005.8ZM1033.3 515.3L1050.5 542.4H1016.1ZM1043.7 515.3L1060.9 542.4H1026.5ZM1053.7 515.3L1070.9 542.4H1036.5ZM1063.8 515.3L1081.0 542.4H1046.6ZM1074.2 515.3L1091.4 542.4H1057.0ZM1084.2 515.3L1101.4 542.4H1067.0ZM1098.0 515.3L1115.2 542.4H1080.8ZM1108.3 515.3L1125.5 542.4H1091.1ZM1118.3 515.3L1135.5 542.4H1101.1ZM1128.3 515.3L1145.5 542.4H1111.1ZM1138.8 515.3L1156.0 542.4H1121.6ZM1148.8 515.3L1166.0 542.4H1131.6ZM1159.5 515.3L1176.7 542.4H1142.3ZM1172.8 515.3L1190.0 542.4H1155.6Z" fill="none" stroke-width="0.75" stroke-linejoin="miter"/>
<line x1="118.2" y1="535.5" x2="1172.8" y2="535.5" stroke-width="6.9"/>
<rect x="574.4" y="20.4" width="598.4" height="271.0" fill="#fff" stroke="none"/>
<line x1="574.3" y1="20.2" x2="574.3" y2="291.9" stroke-width="0.85"/>
<line x1="573.9" y1="291.5" x2="1173.2" y2="291.5" stroke-width="0.75"/>
<g stroke="none">
<rect x="574.1" y="20.4" width="6.9" height="3.4"/>
<rect x="1172.6" y="291.6" width="6.9" height="3.4"/>
</g>
<line x1="601.2" y1="57.5" x2="737.5" y2="57.5" stroke-width="0.75"/>
<rect x="737.5" y="58.1" width="6.5" height="3.4" stroke="none"/>
<line x1="601.2" y1="122.0" x2="737.5" y2="122.0" stroke-width="0.75"/>
<rect x="737.5" y="122.6" width="6.5" height="3.4" stroke="none"/>
<line x1="601.2" y1="186.4" x2="737.5" y2="186.4" stroke-width="0.75"/>
<rect x="737.5" y="187.0" width="6.5" height="3.4" stroke="none"/>
<circle cx="669.3" cy="57.5" r="13.8" fill="none" stroke-width="0.75"/>
<path d="M669.3 108.6V135.4M662.4 115.1L676.2 128.9M676.2 115.1L662.4 128.9" fill="none" stroke-width="0.75"/>
<g stroke="none">
<rect x="683.3" y="122.3" width="6.9" height="3.4"/>
<rect x="669.3" y="135.4" width="6.9" height="3.4"/>
<rect x="662.4" y="128.9" width="6.9" height="3.4"/>
<rect x="676.2" y="128.9" width="6.9" height="3.4"/>
</g>
<path d="M669.3 169.3L686.5 196.4H652.1Z" fill="none" stroke-width="0.75"/>
<line x1="601.2" y1="250.8" x2="737.0" y2="250.8" stroke-width="7.4"/>
<line x1="117.7" y1="20.5" x2="1173.2" y2="20.5" stroke-width="0.55"/>
<line x1="117.7" y1="742.5" x2="1173.2" y2="742.5" stroke-width="0.9"/>
<line x1="118.1" y1="20.2" x2="118.1" y2="743.0" stroke-width="1.0"/>
<line x1="1172.8" y1="20.2" x2="1172.8" y2="743.0" stroke-width="0.8"/>
<g>
<line x1="118.2" y1="20.5" x2="128.2" y2="20.5" stroke-width="0.6"/>
<rect x="128.1" y="20.6" width="7" height="3.4" stroke="none"/>
<line x1="118.2" y1="122.0" x2="128.2" y2="122.0" stroke-width="0.6"/>
<rect x="128.1" y="122.1" width="7" height="3.4" stroke="none"/>
<line x1="118.2" y1="223.5" x2="128.2" y2="223.5" stroke-width="0.6"/>
<rect x="128.1" y="223.6" width="7" height="3.4" stroke="none"/>
<line x1="118.2" y1="328.5" x2="128.2" y2="328.5" stroke-width="0.6"/>
<rect x="128.1" y="328.6" width="7" height="3.4" stroke="none"/>
<line x1="1172.8" y1="328.5" x2="1165.8" y2="328.5" stroke-width="0.6"/>
<rect x="1159.0" y="328.7" width="7" height="3.4" stroke="none"/>
<line x1="118.2" y1="430.4" x2="128.2" y2="430.4" stroke-width="0.6"/>
<rect x="128.1" y="430.4" width="7" height="3.4" stroke="none"/>
<line x1="1172.8" y1="430.4" x2="1165.8" y2="430.4" stroke-width="0.6"/>
<rect x="1159.0" y="430.5" width="7" height="3.4" stroke="none"/>
<line x1="118.2" y1="637.4" x2="128.2" y2="637.4" stroke-width="0.6"/>
<rect x="128.1" y="637.1" width="7" height="3.4" stroke="none"/>
<line x1="1172.8" y1="637.4" x2="1165.8" y2="637.4" stroke-width="0.6"/>
<rect x="1159.0" y="637.2" width="7" height="3.4" stroke="none"/>
<line x1="118.2" y1="742.5" x2="128.2" y2="742.5" stroke-width="0.6"/>
<rect x="128.1" y="742.5" width="7" height="3.4" stroke="none"/>
<line x1="1172.8" y1="742.5" x2="1165.8" y2="742.5" stroke-width="0.6"/>
<rect x="1159.0" y="742.6" width="7" height="3.4" stroke="none"/>
<line x1="318.5" y1="742.3" x2="318.5" y2="729.3" stroke-width="0.6"/>
<rect x="318.6" y="729.0" width="7.2" height="3.4" stroke="none"/>
<line x1="318.5" y1="20.4" x2="318.5" y2="30.4" stroke-width="0.6"/>
<rect x="318.6" y="30.4" width="7.2" height="3.4" stroke="none"/>
<line x1="533.5" y1="742.3" x2="533.5" y2="729.3" stroke-width="0.6"/>
<rect x="533.1" y="729.0" width="7.2" height="3.4" stroke="none"/>
<line x1="533.5" y1="20.4" x2="533.5" y2="30.4" stroke-width="0.6"/>
<rect x="533.1" y="30.4" width="7.2" height="3.4" stroke="none"/>
<line x1="744.5" y1="742.3" x2="744.5" y2="729.3" stroke-width="0.6"/>
<rect x="744.3" y="729.0" width="7.2" height="3.4" stroke="none"/>
<line x1="958.5" y1="742.3" x2="958.5" y2="729.3" stroke-width="0.6"/>
<rect x="958.5" y="729.0" width="7.2" height="3.4" stroke="none"/>
<line x1="1172.8" y1="742.3" x2="1172.8" y2="729.3" stroke-width="0.6"/>
<rect x="1172.8" y="729.0" width="7.2" height="3.4" stroke="none"/>
<line x1="1172.8" y1="20.4" x2="1172.8" y2="30.4" stroke-width="0.6"/>
<rect x="1172.8" y="30.4" width="7.2" height="3.4" stroke="none"/>
<rect x="117.5" y="20.2" width="6.6" height="3.2" stroke="none"/>
<rect x="1172.6" y="20.2" width="7" height="3.4" stroke="none"/>
<rect x="1172.8" y="742.5" width="7" height="3.4" stroke="none"/>
</g>
</g>
<g font-family="Liberation Sans, Arial, sans-serif" fill="#000">
<text x="93.5" y="33.3" font-size="36" text-anchor="end">7</text>
<text x="93.5" y="136.4" font-size="36" text-anchor="end">6</text>
<text x="93.5" y="239.5" font-size="36" text-anchor="end">5</text>
<text x="93.5" y="342.6" font-size="36" text-anchor="end">4</text>
<text x="93.5" y="445.7" font-size="36" text-anchor="end">3</text>
<text x="93.5" y="548.8" font-size="36" text-anchor="end">2</text>
<text x="93.5" y="651.9" font-size="36" text-anchor="end">1</text>
<text x="93.5" y="755.0" font-size="36" text-anchor="end">0</text>
<text x="317.5" y="784.3" font-size="36" text-anchor="middle">20</text>
<text x="530.5" y="784.3" font-size="36" text-anchor="middle">40</text>
<text x="742.5" y="784.3" font-size="36" text-anchor="middle">60</text>
<text x="956.5" y="784.3" font-size="36" text-anchor="middle">80</text>
<text x="1170.3" y="784.3" font-size="36" text-anchor="middle">100</text>
<text y="846.7" font-size="42"><tspan x="560.91" textLength="95.62" lengthAdjust="spacingAndGlyphs">Time</tspan> <tspan x="666.71" textLength="42.53" lengthAdjust="spacingAndGlyphs">(s)</tspan></text>
<text y="77.8" font-size="39.5"><tspan x="750.16" textLength="159.58" lengthAdjust="spacingAndGlyphs">Distance</tspan> <tspan x="918.85" textLength="160.37" lengthAdjust="spacingAndGlyphs">partition</tspan></text>
<text y="142.1" font-size="39.5"><tspan x="750.43" textLength="211.85" lengthAdjust="spacingAndGlyphs">K-means++</tspan> <tspan x="972.00" textLength="160.26" lengthAdjust="spacingAndGlyphs">partition</tspan></text>
<text y="205.9" font-size="39.5"><tspan x="750.14" textLength="175.64" lengthAdjust="spacingAndGlyphs">Proposed</tspan> <tspan x="934.13" textLength="184.00" lengthAdjust="spacingAndGlyphs">algorithm</tspan></text>
<text y="270.2" font-size="39.5"><tspan x="750.10" textLength="84.09" lengthAdjust="spacingAndGlyphs">True</tspan> <tspan x="845.64" textLength="143.93" lengthAdjust="spacingAndGlyphs">number</tspan></text>
<text transform="translate(38.4 0) rotate(-90)" y="0" font-size="42"><tspan x="-531.06" textLength="122.20" lengthAdjust="spacingAndGlyphs">Target</tspan> <tspan x="-399.51" textLength="152.04" lengthAdjust="spacingAndGlyphs">number</tspan></text>
<g fill="#fff" stroke="none"><rect x="75.3" y="648.6" width="6.9" height="4"/><rect x="85.9" y="648.6" width="6.9" height="4"/><rect x="1142.3" y="780.6" width="6.9" height="4"/><rect x="1152.9" y="780.6" width="6.4" height="4"/></g>
</g>
</svg>
</body></html>
